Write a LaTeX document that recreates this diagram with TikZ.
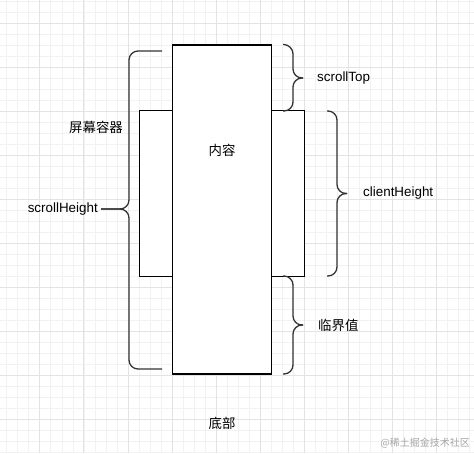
\documentclass[tikz,border=0pt]{standalone}
\usepackage{fontspec}
\setmainfont{Liberation Sans}
\newfontfamily\cjk{Noto Sans CJK SC}
\usetikzlibrary{positioning}

\tikzset{
  box/.style={draw=black, line width=1.1pt, fill=white, inner sep=0pt},
  bracket/.style={draw=black!80, line width=1.3pt, rounded corners=9pt},
  lbl/.style={inner sep=0pt, font=\fontsize{13.4}{16}\selectfont},
  cjklbl/.style={inner sep=0pt, font=\fontsize{13.4}{16}\selectfont\cjk},
  minorline/.style={draw=black!5, line width=0.6pt},
  majorline/.style={draw=black!11, line width=0.8pt}
}

\begin{document}
\begin{tikzpicture}[x=1pt, y=-1pt]
  \useasboundingbox[fill=white] (0,0) rectangle (474,453);
  % grid
  \foreach \i in {-15,...,27}
    \draw[minorline] ({172+11.02*\i},0) -- ({172+11.02*\i},453);
  \foreach \j in {-2,...,39}
    \draw[minorline] (0,{23+11.02*\j}) -- (474,{23+11.02*\j});
  \foreach \i in {-3,...,6}
    \draw[majorline] ({172+44.08*\i},0) -- ({172+44.08*\i},453);
  \foreach \j in {0,...,9}
    \draw[majorline] (0,{23+44.08*\j}) -- (474,{23+44.08*\j});

  % boxes
  \node[box, minimum width=164.5pt, minimum height=165.5pt] (screen) at (222,193.5) {};
  \node[box, minimum width=99pt, minimum height=329pt] (content) at (222,209.5) {};
  \node[cjklbl] (contentlbl) at (222,150) {内容};

  % brace tips
  \coordinate (hTip) at (101,209);
  \coordinate (tTip) at (303,78);
  \coordinate (cTip) at (347,193.5);
  \coordinate (bTip) at (303,325);

  % scrollHeight
  \draw[bracket] (162,51) -- (129,51) -- (129,209) -- (hTip);
  \draw[bracket] (hTip) -- (129,209) -- (129,369) -- (162,369);
  % scrollTop
  \draw[bracket] (content.north east) ++(11,0) -- (293,45) -- (293,78) -- (tTip);
  \draw[bracket] (tTip) -- (293,78) -- (293,111) -- (283,111);
  % clientHeight
  \draw[bracket] (327,111) -- (337,111) -- (337,193.5) -- (cTip);
  \draw[bracket] (cTip) -- (337,193.5) -- (337,276) -- (327,276);
  % bottom part
  \draw[bracket] (283,276) -- (293,276) -- (293,325) -- (bTip);
  \draw[bracket] (bTip) -- (293,325) -- (293,374) -- (283,374);

  % labels
  \node[lbl, left=3pt of hTip] (hLbl) {scrollHeight};
  \node[lbl, right=14pt of tTip] (tLbl) {scrollTop};
  \node[lbl, right=16pt of cTip] (cLbl) {clientHeight};
  \node[cjklbl, right=15pt of bTip] (bLbl) {临界值};
  \node[cjklbl] (screenLbl) at (96,127) {屏幕容器};
  \node[cjklbl] (bottomLbl) at (222,423) {底部};
  \node[inner sep=0pt, anchor=east, text=black!35, font=\fontsize{10}{12}\selectfont\cjk] (mark) at (470,443) {@稀土掘金技术社区};
\end{tikzpicture}
\end{document}
